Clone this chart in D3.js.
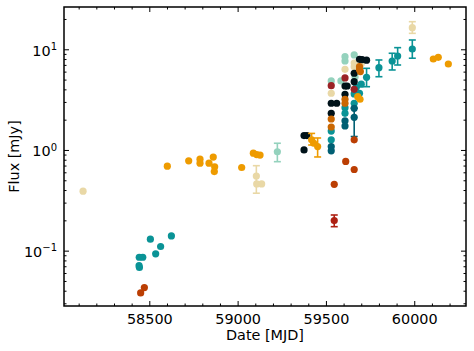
<!DOCTYPE html>
<html>
<head>
<meta charset="utf-8">
<script src="https://cdn.jsdelivr.net/npm/d3@7"></script>
<style>
body { margin: 0; background: #fff; }
svg text { font-family: "DejaVu Sans", sans-serif; fill: #000; }
</style>
</head>
<body>
<div id="chart"></div>
<script>
// points are [MJD, flux in mJy]; error points are [MJD, flux, low, high]
const beige = [[58125,0.39],[59108,0.46],[59136,0.46],[59530,3.66],[59608,6.33],[59660,7.3],[59660,6.72],[59700,7.2]];
const beigeErr = [[59106,0.55,0.372,0.698],[59989,16.4,14.4,18.8]];
const lightTeal = [[59530,4.85],[59585,4.85],[59608,8.45],[59608,7.65],[59660,8.78],[59665,5.3]];
const lightTealErr = [[59225,0.96,0.765,1.166]];
const teal = [[58443,0.086],[58463,0.086],[58442,0.071],[58444,0.068],[58506,0.13],[58536,0.093],[58564,0.11],[58625,0.14],
  [59530,1.54],[59530,1.26],[59608,2.63],[59608,2.31],[59660,3.6],[59660,2.91],[59690,3.66],[59700,4.5],[59672,4.2]];
const tealErr = [[59730,5.27,4.25,6.47],[59800,6.56,5.34,7.83],[59875,7.65,6.23,9.13],[59906,8.58,6.98,10.38],[59989,10.07,8.15,12.37]];
const darkTeal = [[59530,1.08],[59530,0.98],[59608,1.95],[59608,1.73],[59660,2.59]];
const darkTealErr = [[59660,2.11,1.36,2.6]];
const orange = [[58602,0.69],[58723,0.78],[58787,0.81],[58787,0.74],[58838,0.74],[58862,0.85],[58870,0.68],[58868,0.61],
  [59023,0.67],[59089,0.93],[59108,0.90],[59127,0.89],[59430,1.17],[59680,3.38],[59693,3.19],[60108,8.01],[60136,8.32],[60193,7.14]];
const orangeErr = [[59419,1.26,1.12,1.46],[59453,1.08,0.852,1.315]];
const darkOrange = [[59530,2.03],[59530,1.69],[59608,3.19],[59608,2.91],[59690,6.72],[59695,6.0],[59690,6.3]];
const rust = [[58451,0.038],[58472,0.043],[59547,0.456],[59612,0.77],[59660,1.26],[59660,0.64]];
const redErr = [[59547,0.199,0.173,0.226]];
const darkRed = [[59530,4.35],[59608,5.19],[59660,4.0]];
const black = [[59376,1.39],[59392,1.39],[59376,1.0],[59530,2.91],[59561,2.91],[59530,2.31],[59608,4.32],[59620,4.32],
  [59608,3.57],[59660,5.78],[59660,4.77],[59690,7.95],[59705,7.9],[59730,7.8]];

const xTicks = [58500, 59000, 59500, 60000];
const yTicks = [0.1, 1, 10];
const yTickExp = ['\u22121', '0', '1'];

const width = 474, height = 351;
const mLeft = 64, mRight = 466, mTop = 7, mBottom = 306;

const svg = d3.select('#chart').append('svg')
  .attr('width', width).attr('height', height);

const x = d3.scaleLinear().domain([58017, 60293]).range([mLeft, mRight]);
const y = d3.scaleLog().domain([0.0282, 26.3]).range([mBottom, mTop]);

// minor ticks
let xMinor = d3.range(58100, 60300, 100).filter(v => xTicks.indexOf(v) < 0);
let yMinor = [];
[0.01, 0.1, 1, 10].forEach(dec => {
  for (let m = 2; m <= 9; m++) {
    let v = dec * m;
    if (v > y.domain()[0] && v < y.domain()[1]) yMinor.push(v);
  }
});

function axisGroup(axis, tx, ty) {
  let g = svg.append('g').attr('transform', 'translate(' + tx + ',' + ty + ')').call(axis);
  g.select('.domain').remove();
  g.selectAll('.tick line').attr('stroke', '#000').attr('stroke-width', 1);
  return g;
}

const xBottom = axisGroup(d3.axisBottom(x).tickValues(xTicks).tickSize(-5).tickPadding(8).tickFormat(d3.format('d')), 0, mBottom);
xBottom.selectAll('text').style('font-size', '14.4px').attr('dy', '0.71em');
axisGroup(d3.axisBottom(x).tickValues(xMinor).tickSize(-2.5).tickFormat(''), 0, mBottom);
axisGroup(d3.axisTop(x).tickValues(xTicks).tickSize(-5).tickFormat(''), 0, mTop);
axisGroup(d3.axisTop(x).tickValues(xMinor).tickSize(-2.5).tickFormat(''), 0, mTop);

const yLeft = axisGroup(d3.axisLeft(y).tickValues(yTicks).tickSize(-5).tickPadding(7).tickFormat(''), mLeft, 0);
yLeft.selectAll('.tick text').each(function(d, i) {
  let t = d3.select(this).style('font-size', '14.4px').attr('dy', '0.4em');
  t.append('tspan').text('10');
  t.append('tspan').attr('dy', '-0.55em').style('font-size', '10px').text(yTickExp[i]);
});
axisGroup(d3.axisLeft(y).tickValues(yMinor).tickSize(-2.5).tickFormat(''), mLeft, 0);
axisGroup(d3.axisRight(y).tickValues(yTicks).tickSize(-5).tickFormat(''), mRight, 0);
axisGroup(d3.axisRight(y).tickValues(yMinor).tickSize(-2.5).tickFormat(''), mRight, 0);

// frame
svg.append('rect')
  .attr('x', mLeft).attr('y', mTop)
  .attr('width', mRight - mLeft).attr('height', mBottom - mTop)
  .attr('fill', 'none').attr('stroke', '#000').attr('stroke-width', 1.5);

// axis labels
svg.append('text')
  .attr('x', (mLeft + mRight) / 2).attr('y', 340)
  .style('text-anchor', 'middle').style('font-size', '14.4px')
  .text('Date [MJD]');
svg.append('text')
  .attr('transform', 'translate(19,' + ((mTop + mBottom) / 2) + ') rotate(-90)')
  .style('text-anchor', 'middle').style('font-size', '14.4px')
  .text('Flux [mJy]');

const plot = svg.append('g');
const r = 3.6;

function drawPoints(data, color) {
  plot.selectAll(null).data(data).enter()
    .append('circle')
    .attr('cx', d => x(d[0]))
    .attr('cy', d => y(d[1]))
    .attr('r', r)
    .style('fill', color);
}

function drawErr(data, color) {
  let g = plot.append('g').style('stroke', color).style('stroke-width', 1.6);
  data.forEach(d => {
    g.append('line').attr('x1', x(d[0])).attr('x2', x(d[0])).attr('y1', y(d[2])).attr('y2', y(d[3]));
    g.append('line').attr('x1', x(d[0]) - 3.5).attr('x2', x(d[0]) + 3.5).attr('y1', y(d[2])).attr('y2', y(d[2]));
    g.append('line').attr('x1', x(d[0]) - 3.5).attr('x2', x(d[0]) + 3.5).attr('y1', y(d[3])).attr('y2', y(d[3]));
  });
  drawPoints(data, color);
}

drawPoints(beige, '#e9d8a6');
drawErr(beigeErr, '#e9d8a6');
drawPoints(lightTeal, '#94d2bd');
drawErr(lightTealErr, '#94d2bd');
drawPoints(teal, '#0a9396');
drawErr(tealErr, '#0a9396');
drawPoints(darkTeal, '#005f73');
drawErr(darkTealErr, '#005f73');
drawPoints(black, '#001219');
drawPoints(darkRed, '#9b2226');
drawPoints(darkOrange, '#ca6702');
drawPoints(orange, '#ee9b00');
drawErr(orangeErr, '#ee9b00');
drawPoints(rust, '#bb3e03');
drawErr(redErr, '#ae2012');
</script>
</body>
</html>
